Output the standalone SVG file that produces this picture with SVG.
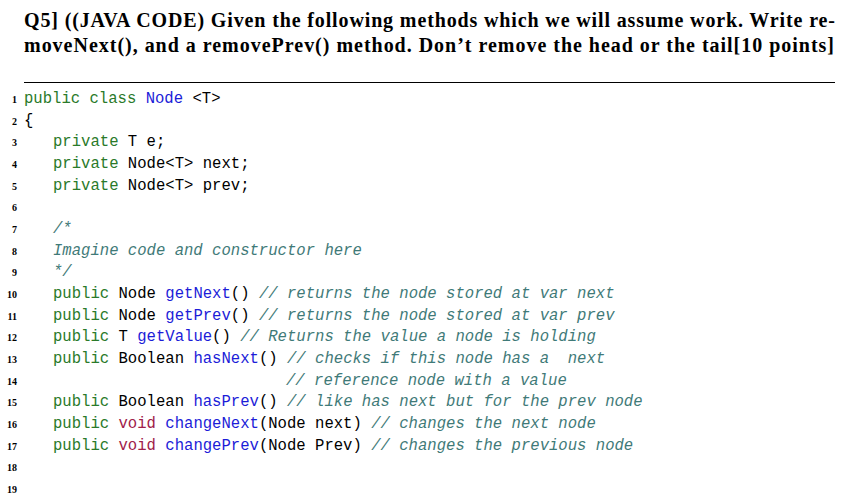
<svg xmlns="http://www.w3.org/2000/svg" width="855" height="495" viewBox="0 0 855 495">
<style>
.t{font-family:"Liberation Serif","DejaVu Serif",serif;font-size:20px;font-weight:bold;fill:#000}
.c{font-family:"Liberation Mono","DejaVu Sans Mono",monospace;font-size:15.6px;fill:#000;white-space:pre}
.n{font-family:"Liberation Serif",serif;font-size:10px;font-weight:bold;fill:#000;text-anchor:end}
.k{fill:#2a7a2a}.f{fill:#1c1cd8}.v{fill:#a0204a}.m{fill:#3f7a78;font-style:italic}
</style>
<rect width="855" height="495" fill="#fff"/>
<text class="t" x="24" y="27" textLength="811" lengthAdjust="spacing">Q5] ((JAVA CODE) Given the following methods which we will assume work. Write re-</text>
<text class="t" x="24" y="52" textLength="810" lengthAdjust="spacing">moveNext(), and a removePrev() method. Don’t remove the head or the tail[10 points]</text>
<line x1="24" y1="82.5" x2="835" y2="82.5" stroke="#000" stroke-width="1"/>
<g id="numbers">
<text class="n" x="17" y="103">1</text><text class="n" x="17" y="125">2</text><text class="n" x="17" y="146">3</text><text class="n" x="17" y="168">4</text><text class="n" x="17" y="190">5</text><text class="n" x="17" y="211">6</text><text class="n" x="17" y="233">7</text><text class="n" x="17" y="255">8</text><text class="n" x="17" y="276">9</text><text class="n" x="17" y="298">10</text><text class="n" x="17" y="320">11</text><text class="n" x="17" y="341">12</text><text class="n" x="17" y="363">13</text><text class="n" x="17" y="385">14</text><text class="n" x="17" y="406">15</text><text class="n" x="17" y="428">16</text><text class="n" x="17" y="450">17</text><text class="n" x="17" y="471">18</text><text class="n" x="17" y="493">19</text>
</g>
<g id="code">
<text class="c" x="24" y="103"><tspan class="k">public class</tspan> <tspan class="f">Node</tspan> &lt;T&gt;</text>
<text class="c" x="24" y="125">{</text>
<text class="c" x="53" y="146"><tspan class="k">private</tspan> T e;</text>
<text class="c" x="53" y="168"><tspan class="k">private</tspan> Node&lt;T&gt; next;</text>
<text class="c" x="53" y="190"><tspan class="k">private</tspan> Node&lt;T&gt; prev;</text>
<text class="c m" x="53" y="233">/*</text>
<text class="c m" x="53" y="255">Imagine code and constructor here</text>
<text class="c m" x="53" y="276">*/</text>
<text class="c" x="53" y="298"><tspan class="k">public</tspan> Node <tspan class="f">getNext</tspan>() <tspan class="m">// returns the node stored at var next</tspan></text>
<text class="c" x="53" y="320"><tspan class="k">public</tspan> Node <tspan class="f">getPrev</tspan>() <tspan class="m">// returns the node stored at var prev</tspan></text>
<text class="c" x="53" y="341"><tspan class="k">public</tspan> T <tspan class="f">getValue</tspan>() <tspan class="m">// Returns the value a node is holding</tspan></text>
<text class="c" x="53" y="363"><tspan class="k">public</tspan> Boolean <tspan class="f">hasNext</tspan>() <tspan class="m">// checks if this node has a  next</tspan></text>
<text class="c m" x="286" y="385">// reference node with a value</text>
<text class="c" x="53" y="406"><tspan class="k">public</tspan> Boolean <tspan class="f">hasPrev</tspan>() <tspan class="m">// like has next but for the prev node</tspan></text>
<text class="c" x="53" y="428"><tspan class="k">public</tspan> <tspan class="v">void</tspan> <tspan class="f">changeNext</tspan>(Node next) <tspan class="m">// changes the next node</tspan></text>
<text class="c" x="53" y="450"><tspan class="k">public</tspan> <tspan class="v">void</tspan> <tspan class="f">changePrev</tspan>(Node Prev) <tspan class="m">// changes the previous node</tspan></text>
</g>
</svg>
